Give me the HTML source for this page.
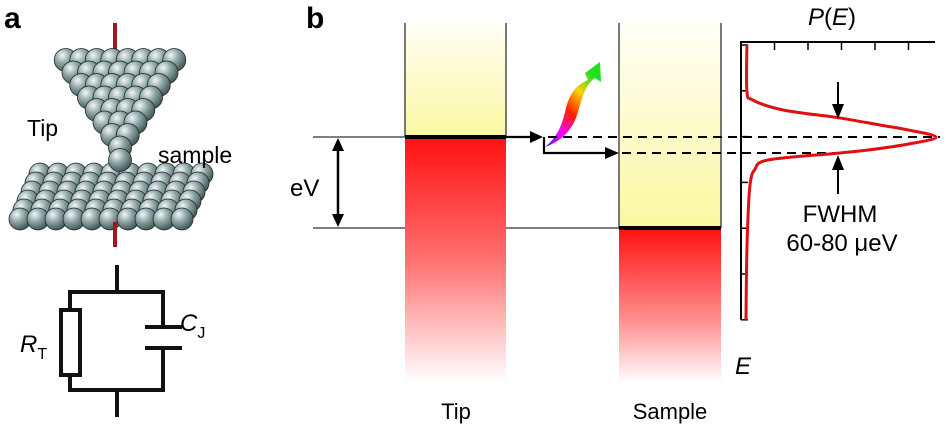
<!DOCTYPE html>
<html><head><meta charset="utf-8"><style>
html,body{margin:0;padding:0;background:#fff;}
svg{display:block;font-family:"Liberation Sans",Arial,sans-serif;}
</style></head><body>
<svg width="946" height="432" viewBox="0 0 946 432">
<defs>
<radialGradient id="ball" cx="0.35" cy="0.3" r="0.75">
<stop offset="0" stop-color="#f2f7f7"/><stop offset="0.45" stop-color="#8fa5a5"/><stop offset="1" stop-color="#3e5050"/></radialGradient>
<linearGradient id="yel" x1="0" y1="0" x2="0" y2="1"><stop offset="0" stop-color="#fffef6"/><stop offset="1" stop-color="#fbf8a0"/></linearGradient>
<linearGradient id="yel2" x1="0" y1="0" x2="0" y2="1"><stop offset="0" stop-color="#fffef6"/><stop offset="1" stop-color="#fbf8a0"/></linearGradient>
<linearGradient id="red" x1="0" y1="0" x2="0" y2="1"><stop offset="0" stop-color="#ff1010"/><stop offset="0.5" stop-color="#ff7070"/><stop offset="1" stop-color="#ffffff"/></linearGradient>
<linearGradient id="red2" x1="0" y1="0" x2="0" y2="1"><stop offset="0" stop-color="#ff1010"/><stop offset="0.6" stop-color="#ff9090"/><stop offset="1" stop-color="#ffffff"/></linearGradient>
<linearGradient id="rainbow" x1="0" y1="1" x2="0.6" y2="0"><stop offset="0" stop-color="#4020ff"/><stop offset="0.25" stop-color="#ff00ff"/><stop offset="0.5" stop-color="#ff2000"/><stop offset="0.75" stop-color="#ffd000"/><stop offset="1" stop-color="#20e020"/></linearGradient>
</defs>

<text x="4" y="28" font-size="30" font-weight="bold">a</text>
<text x="306" y="28" font-size="30" font-weight="bold">b</text>

<g id="slab"></g>
<line x1="115" y1="222" x2="115" y2="247" stroke="#a01818" stroke-width="4"/>
<line x1="115" y1="23" x2="115" y2="50" stroke="#a01818" stroke-width="4"/>
<g id="tip"></g>
<text x="27" y="136" font-size="23">Tip</text>
<text x="158" y="163" font-size="23">sample</text>

<g stroke="#111" stroke-width="4" fill="none">
<line x1="117" y1="265" x2="117" y2="292"/>
<polyline points="70,310 70,292 163,292 163,327"/>
<polyline points="70,375 70,390 163,390 163,348"/>
<rect x="61" y="310" width="19" height="65"/>
<line x1="145" y1="327" x2="182" y2="327"/>
<line x1="145" y1="348" x2="182" y2="348"/>
<line x1="117" y1="390" x2="117" y2="417"/>
</g>
<text x="20" y="352" font-size="24" font-style="italic">R<tspan font-size="16" font-style="normal" dy="7">T</tspan></text>
<text x="180" y="331" font-size="24" font-style="italic">C<tspan font-size="16" font-style="normal" dy="7">J</tspan></text>

<!-- panel b -->
<rect x="405" y="23" width="101" height="114" fill="url(#yel)"/>
<rect x="405" y="137" width="101" height="245" fill="url(#red)"/>
<rect x="619" y="23" width="102" height="205" fill="url(#yel2)"/>
<rect x="619" y="228" width="102" height="155" fill="url(#red2)"/>
<g stroke="#333" stroke-width="1.3">
<line x1="405" y1="23" x2="405" y2="137"/><line x1="506" y1="23" x2="506" y2="137"/>
<line x1="619" y1="23" x2="619" y2="228"/><line x1="721" y1="23" x2="721" y2="228"/>
<line x1="313" y1="137" x2="405" y2="137"/>
<line x1="313" y1="228" x2="405" y2="228"/><line x1="506" y1="228" x2="619" y2="228"/>
</g>
<line x1="405" y1="137" x2="506" y2="137" stroke="#000" stroke-width="4"/>
<line x1="619" y1="228" x2="721" y2="228" stroke="#000" stroke-width="4"/>
<g>
<line x1="338" y1="146" x2="338" y2="219" stroke="#000" stroke-width="2.5"/>
<polygon points="338,138 332,151 344,151" fill="#000"/><polygon points="338,227 332,214 344,214" fill="#000"/>
</g>
<text x="290" y="196" font-size="24">eV</text>
<g stroke="#000" stroke-width="2.2" fill="none">
<line x1="506" y1="137" x2="532" y2="137"/>
<polyline points="544,137 544,153 605,153"/>
</g>
<polygon points="543,137 530,131 530,143" fill="#000"/>
<polygon points="619,153 605,147 605,159" fill="#000"/>
<path d="M545,147 C560,135 563,120 566,108 C570,92 578,84 588,80 L585,73 L600,62 L601,82 L595,78 C586,84 583,95 578,112 C574,126 565,140 545,147 Z" fill="url(#rainbow)"/>
<g stroke="#000" stroke-width="2" stroke-dasharray="9,6" fill="none">
<line x1="548" y1="137" x2="940" y2="137"/>
<line x1="622" y1="153" x2="845" y2="153"/>
</g>
<text x="456" y="419" font-size="22" text-anchor="middle">Tip</text>
<text x="670" y="419" font-size="22" text-anchor="middle">Sample</text>

<!-- P(E) chart -->
<g id="pe"></g>
<text x="808" y="25" font-size="24"><tspan font-style="italic">P</tspan>(<tspan font-style="italic">E</tspan>)</text>
<text x="735" y="374" font-size="24" font-style="italic">E</text>
<g>
<line x1="838" y1="82" x2="838" y2="106" stroke="#000" stroke-width="2"/><polygon points="838,119 832,104 844,104" fill="#000"/>
<line x1="838" y1="194" x2="838" y2="168" stroke="#000" stroke-width="2"/><polygon points="838,155 832,170 844,170" fill="#000"/>
</g>
<text x="840" y="222" font-size="24" text-anchor="middle">FWHM</text>
<text x="842" y="251" font-size="24" text-anchor="middle">60-80 μeV</text>
</svg>
<script>
// P(E) data (energy in tick units from top; P in arbitrary units 0..1)
const energies = [0, 1.0, 1.2, 1.42, 1.59, 1.75, 1.86, 2.01, 2.16, 2.29, 2.36, 2.51, 2.73, 2.95, 3.38, 4.48, 6];
const pValues  = [0.01, 0.01, 0.04, 0.2, 0.49, 0.71, 0.86, 1.0, 0.86, 0.65, 0.49, 0.12, 0.05, 0.03, 0.02, 0.01, 0.005];
const xTicks = [1,2,3,4,5];
const yTicks = [0,1,2,3,4,5,6];
const NS='http://www.w3.org/2000/svg';
const ax0=741, ay0=45, yUnit=45.8;
const sx=p=>745+p*(936-745);
const sy=e=>ay0+e*yUnit;
const pe=document.getElementById('pe');
function mk(t,a){const e=document.createElementNS(NS,t);for(const k in a)e.setAttribute(k,a[k]);pe.appendChild(e);return e;}
let ax=mk('polyline',{points:`${ax0+194},42 ${ax0},42 ${ax0},${sy(6)}`,fill:'none',stroke:'#000','stroke-width':2});


xTicks.forEach(t=>{const l=mk('line',{x1:ax0+t*33.5,x2:ax0+t*33.5,y1:42,y2:50,stroke:'#000','stroke-width':1.5});

});
yTicks.forEach(t=>{const l=mk('line',{x1:ax0,x2:ax0+7,y1:sy(t),y2:sy(t),stroke:'#000','stroke-width':1.5});

});
const pts=energies.map((e,i)=>[sx(pValues[i]),sy(e)]);
let d='M'+pts[0][0]+','+pts[0][1];
for(let i=0;i<pts.length-1;i++){
  const p0=pts[Math.max(0,i-1)],p1=pts[i],p2=pts[i+1],p3=pts[Math.min(pts.length-1,i+2)];
  const c1=[p1[0]+(p2[0]-p0[0])/6,p1[1]+(p2[1]-p0[1])/6];
  const c2=[p2[0]-(p3[0]-p1[0])/6,p2[1]-(p3[1]-p1[1])/6];
  d+=` C${c1[0].toFixed(1)},${c1[1].toFixed(1)} ${c2[0].toFixed(1)},${c2[1].toFixed(1)} ${p2[0].toFixed(1)},${p2[1].toFixed(1)}`;
}
const c=mk('path',{d:d,fill:'none',stroke:'#e01010','stroke-width':3,'stroke-linejoin':'round'});



// atoms
function ball(g,x,y,r){const e=document.createElementNS(NS,'circle');e.setAttribute('cx',x);e.setAttribute('cy',y);e.setAttribute('r',r);e.setAttribute('fill','url(#ball)');e.setAttribute('stroke','#1f2a2a');e.setAttribute('stroke-width','0.8');g.appendChild(e);}
const slab=document.getElementById('slab');
for(let row=0;row<6;row++){const y=174+row*9;const x0=40-row*4;for(let i=0;i<10;i++)ball(slab,x0+i*18,y,11);}
const tip=document.getElementById('tip');
for(let row=0;row<9;row++){const n=Math.max(1,8-row);const w=(n-1)*15.5;const y=60+row*12.5;for(let i=0;i<n;i++)ball(tip,120-w/2+i*15.5,y,11.5);}
</script>
</body></html>
